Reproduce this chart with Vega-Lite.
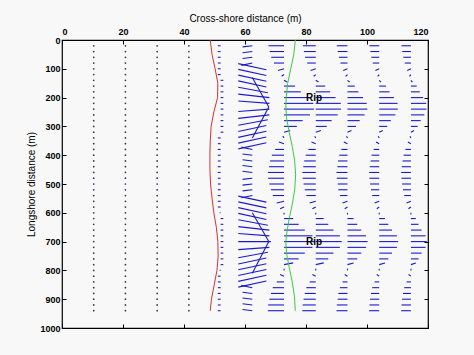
{
"$schema":"https://vega.github.io/schema/vega-lite/v6.json",
"autosize":"none",
"width":366,"height":288,
"padding":{"left":62,"top":40,"right":46,"bottom":27},
"background":"#f8f8f8",
"config":{"view":{"stroke":"#000","strokeWidth":1.2},
"axis":{"labelFont":"Liberation Sans","titleFont":"Liberation Sans","labelFontSize":9,"labelFontWeight":"bold","titleFontSize":10,"titleFontWeight":"normal","labelColor":"#000","titleColor":"#000","tickColor":"#000","domainColor":"#000","grid":false}},
"datasets":{
"dots":[
{"x":10.4,"y":20},{"x":10.4,"y":40},{"x":10.4,"y":60},{"x":10.4,"y":80},{"x":10.4,"y":100},{"x":10.4,"y":120},{"x":10.4,"y":140},{"x":10.4,"y":160},{"x":10.4,"y":180},{"x":10.4,"y":200},{"x":10.4,"y":220},{"x":10.4,"y":240},{"x":10.4,"y":260},{"x":10.4,"y":280},{"x":10.4,"y":300},{"x":10.4,"y":320},{"x":10.4,"y":340},{"x":10.4,"y":360},{"x":10.4,"y":380},{"x":10.4,"y":400},{"x":10.4,"y":420},{"x":10.4,"y":440},{"x":10.4,"y":460},{"x":10.4,"y":480},{"x":10.4,"y":500},{"x":10.4,"y":520},{"x":10.4,"y":540},{"x":10.4,"y":560},{"x":10.4,"y":580},{"x":10.4,"y":600},{"x":10.4,"y":620},{"x":10.4,"y":640},{"x":10.4,"y":660},{"x":10.4,"y":680},{"x":10.4,"y":700},{"x":10.4,"y":720},{"x":10.4,"y":740},{"x":10.4,"y":760},{"x":10.4,"y":780},{"x":10.4,"y":800},{"x":10.4,"y":820},{"x":10.4,"y":840},{"x":10.4,"y":860},{"x":10.4,"y":880},{"x":10.4,"y":900},{"x":10.4,"y":920},{"x":10.4,"y":940},
{"x":20.8,"y":20},{"x":20.8,"y":40},{"x":20.8,"y":60},{"x":20.8,"y":80},{"x":20.8,"y":100},{"x":20.8,"y":120},{"x":20.8,"y":140},{"x":20.8,"y":160},{"x":20.8,"y":180},{"x":20.8,"y":200},{"x":20.8,"y":220},{"x":20.8,"y":240},{"x":20.8,"y":260},{"x":20.8,"y":280},{"x":20.8,"y":300},{"x":20.8,"y":320},{"x":20.8,"y":340},{"x":20.8,"y":360},{"x":20.8,"y":380},{"x":20.8,"y":400},{"x":20.8,"y":420},{"x":20.8,"y":440},{"x":20.8,"y":460},{"x":20.8,"y":480},{"x":20.8,"y":500},{"x":20.8,"y":520},{"x":20.8,"y":540},{"x":20.8,"y":560},{"x":20.8,"y":580},{"x":20.8,"y":600},{"x":20.8,"y":620},{"x":20.8,"y":640},{"x":20.8,"y":660},{"x":20.8,"y":680},{"x":20.8,"y":700},{"x":20.8,"y":720},{"x":20.8,"y":740},{"x":20.8,"y":760},{"x":20.8,"y":780},{"x":20.8,"y":800},{"x":20.8,"y":820},{"x":20.8,"y":840},{"x":20.8,"y":860},{"x":20.8,"y":880},{"x":20.8,"y":900},{"x":20.8,"y":920},{"x":20.8,"y":940},
{"x":31.2,"y":20},{"x":31.2,"y":40},{"x":31.2,"y":60},{"x":31.2,"y":80},{"x":31.2,"y":100},{"x":31.2,"y":120},{"x":31.2,"y":140},{"x":31.2,"y":160},{"x":31.2,"y":180},{"x":31.2,"y":200},{"x":31.2,"y":220},{"x":31.2,"y":240},{"x":31.2,"y":260},{"x":31.2,"y":280},{"x":31.2,"y":300},{"x":31.2,"y":320},{"x":31.2,"y":340},{"x":31.2,"y":360},{"x":31.2,"y":380},{"x":31.2,"y":400},{"x":31.2,"y":420},{"x":31.2,"y":440},{"x":31.2,"y":460},{"x":31.2,"y":480},{"x":31.2,"y":500},{"x":31.2,"y":520},{"x":31.2,"y":540},{"x":31.2,"y":560},{"x":31.2,"y":580},{"x":31.2,"y":600},{"x":31.2,"y":620},{"x":31.2,"y":640},{"x":31.2,"y":660},{"x":31.2,"y":680},{"x":31.2,"y":700},{"x":31.2,"y":720},{"x":31.2,"y":740},{"x":31.2,"y":760},{"x":31.2,"y":780},{"x":31.2,"y":800},{"x":31.2,"y":820},{"x":31.2,"y":840},{"x":31.2,"y":860},{"x":31.2,"y":880},{"x":31.2,"y":900},{"x":31.2,"y":920},{"x":31.2,"y":940},
{"x":41.6,"y":20},{"x":41.6,"y":40},{"x":41.6,"y":60},{"x":41.6,"y":80},{"x":41.6,"y":100},{"x":41.6,"y":120},{"x":41.6,"y":140},{"x":41.6,"y":160},{"x":41.6,"y":180},{"x":41.6,"y":200},{"x":41.6,"y":220},{"x":41.6,"y":240},{"x":41.6,"y":260},{"x":41.6,"y":280},{"x":41.6,"y":300},{"x":41.6,"y":320},{"x":41.6,"y":340},{"x":41.6,"y":360},{"x":41.6,"y":380},{"x":41.6,"y":400},{"x":41.6,"y":420},{"x":41.6,"y":440},{"x":41.6,"y":460},{"x":41.6,"y":480},{"x":41.6,"y":500},{"x":41.6,"y":520},{"x":41.6,"y":540},{"x":41.6,"y":560},{"x":41.6,"y":580},{"x":41.6,"y":600},{"x":41.6,"y":620},{"x":41.6,"y":640},{"x":41.6,"y":660},{"x":41.6,"y":680},{"x":41.6,"y":700},{"x":41.6,"y":720},{"x":41.6,"y":740},{"x":41.6,"y":760},{"x":41.6,"y":780},{"x":41.6,"y":800},{"x":41.6,"y":820},{"x":41.6,"y":840},{"x":41.6,"y":860},{"x":41.6,"y":880},{"x":41.6,"y":900},{"x":41.6,"y":920},{"x":41.6,"y":940}
],
"arrows":[
{"x":52,"y":20,"xe":51.1,"ye":20},{"x":52,"y":40,"xe":51.1,"ye":40},{"x":52,"y":60,"xe":51.1,"ye":60},{"x":52,"y":80,"xe":51.1,"ye":80},{"x":52,"y":100,"xe":51.1,"ye":100},{"x":52,"y":120,"xe":51.1,"ye":120},{"x":52,"y":140,"xe":52.9,"ye":140},{"x":52,"y":160,"xe":52.9,"ye":160},{"x":52,"y":180,"xe":52.9,"ye":180},{"x":52,"y":200,"xe":52.9,"ye":200},{"x":52,"y":220,"xe":52.9,"ye":220},{"x":52,"y":240,"xe":52.9,"ye":240},{"x":52,"y":260,"xe":52.9,"ye":260},{"x":52,"y":280,"xe":52.9,"ye":280},{"x":52,"y":300,"xe":52.9,"ye":300},{"x":52,"y":320,"xe":52.9,"ye":320},{"x":52,"y":340,"xe":51.1,"ye":340},{"x":52,"y":360,"xe":51.1,"ye":360},{"x":52,"y":380,"xe":51.1,"ye":380},{"x":52,"y":400,"xe":51.1,"ye":400},{"x":52,"y":420,"xe":51.1,"ye":420},{"x":52,"y":440,"xe":51.1,"ye":440},{"x":52,"y":460,"xe":51.1,"ye":460},{"x":52,"y":480,"xe":51.1,"ye":480},{"x":52,"y":500,"xe":51.1,"ye":500},{"x":52,"y":520,"xe":51.1,"ye":520},{"x":52,"y":540,"xe":51.1,"ye":540},{"x":52,"y":560,"xe":51.1,"ye":560},{"x":52,"y":580,"xe":51.1,"ye":580},{"x":52,"y":600,"xe":51.7,"ye":600},{"x":52,"y":620,"xe":52.9,"ye":620},{"x":52,"y":640,"xe":52.9,"ye":640},{"x":52,"y":660,"xe":52.9,"ye":660},{"x":52,"y":680,"xe":52.9,"ye":680},{"x":52,"y":700,"xe":52.9,"ye":700},{"x":52,"y":720,"xe":52.9,"ye":720},{"x":52,"y":740,"xe":52.9,"ye":740},{"x":52,"y":760,"xe":52.9,"ye":760},{"x":52,"y":780,"xe":52.9,"ye":780},{"x":52,"y":800,"xe":51.7,"ye":800},{"x":52,"y":820,"xe":51.1,"ye":820},{"x":52,"y":840,"xe":51.1,"ye":840},{"x":52,"y":860,"xe":51.1,"ye":860},{"x":52,"y":880,"xe":51.1,"ye":880},{"x":52,"y":900,"xe":51.1,"ye":900},{"x":52,"y":920,"xe":51.1,"ye":920},{"x":52,"y":940,"xe":51.1,"ye":940},
{"x":62.4,"y":20,"xe":59.2,"ye":24},{"x":62.4,"y":40,"xe":59.2,"ye":44},{"x":62.4,"y":60,"xe":59.2,"ye":64},{"x":62.4,"y":80,"xe":58.8,"ye":88},{"x":57.8,"y":82,"xe":67,"ye":103},{"x":57.8,"y":102,"xe":67,"ye":123},{"x":57.8,"y":122,"xe":67,"ye":143},{"x":57.8,"y":142,"xe":67,"ye":163},{"x":57.8,"y":164,"xe":67.5,"ye":183},{"x":57.8,"y":188,"xe":68,"ye":200},{"x":57.8,"y":212,"xe":68,"ye":220},{"x":57.8,"y":248,"xe":68,"ye":240},{"x":57.8,"y":272,"xe":68,"ye":260},{"x":57.8,"y":296,"xe":67.5,"ye":277},{"x":57.8,"y":318,"xe":67,"ye":297},{"x":57.8,"y":338,"xe":67,"ye":317},{"x":57.8,"y":358,"xe":67,"ye":337},{"x":57.8,"y":378,"xe":67,"ye":357},{"x":62.4,"y":380,"xe":58.8,"ye":372},{"x":62.4,"y":400,"xe":59.2,"ye":396},{"x":62.4,"y":420,"xe":59.2,"ye":416},{"x":62.4,"y":440,"xe":59.2,"ye":436},{"x":62.4,"y":460,"xe":59.2,"ye":456},{"x":62.4,"y":480,"xe":59.2,"ye":484},{"x":62.4,"y":500,"xe":59.2,"ye":504},{"x":62.4,"y":520,"xe":59.2,"ye":524},{"x":62.4,"y":540,"xe":58.8,"ye":548},{"x":57.8,"y":542,"xe":67,"ye":563},{"x":57.8,"y":562,"xe":67,"ye":583},{"x":57.8,"y":582,"xe":67,"ye":603},{"x":57.8,"y":602,"xe":67,"ye":623},{"x":57.8,"y":624,"xe":67.5,"ye":643},{"x":57.8,"y":648,"xe":68,"ye":660},{"x":57.8,"y":672,"xe":68,"ye":680},{"x":57.8,"y":700,"xe":68.5,"ye":700},{"x":57.8,"y":728,"xe":68,"ye":720},{"x":57.8,"y":756,"xe":67.5,"ye":737},{"x":57.8,"y":778,"xe":67,"ye":757},{"x":57.8,"y":798,"xe":67,"ye":777},{"x":57.8,"y":818,"xe":67,"ye":797},{"x":57.8,"y":838,"xe":67,"ye":817},{"x":57.8,"y":858,"xe":67,"ye":837},{"x":62.4,"y":860,"xe":58.8,"ye":852},{"x":62.4,"y":880,"xe":59.2,"ye":876},{"x":62.4,"y":900,"xe":59.2,"ye":896},{"x":62.4,"y":920,"xe":59.2,"ye":916},{"x":62.4,"y":940,"xe":59.2,"ye":936},
{"x":62.4,"y":130,"xe":67.8,"ye":233},{"x":67.8,"y":233,"xe":62.4,"ye":340},{"x":62.4,"y":600,"xe":67.8,"ye":700},{"x":67.8,"y":700,"xe":62.4,"ye":810},
{"x":72.8,"y":20,"xe":67.7,"ye":20},{"x":72.8,"y":40,"xe":68.1,"ye":40},{"x":72.8,"y":60,"xe":68.6,"ye":60},{"x":72.8,"y":80,"xe":69.5,"ye":80},{"x":72.8,"y":100,"xe":70.8,"ye":106},{"x":72.8,"y":120,"xe":72.0,"ye":126},{"x":72.8,"y":140,"xe":73.8,"ye":146},{"x":72.8,"y":160,"xe":76.4,"ye":160},{"x":72.8,"y":180,"xe":78.3,"ye":180},{"x":72.8,"y":200,"xe":80.5,"ye":200},{"x":72.8,"y":220,"xe":82.4,"ye":220},{"x":72.8,"y":240,"xe":82.6,"ye":240},{"x":72.8,"y":260,"xe":81.3,"ye":260},{"x":72.8,"y":280,"xe":78.9,"ye":280},{"x":72.8,"y":300,"xe":77.0,"ye":300},{"x":72.8,"y":320,"xe":74.8,"ye":314},{"x":72.8,"y":340,"xe":72.4,"ye":334},{"x":72.8,"y":360,"xe":71.1,"ye":354},{"x":72.8,"y":380,"xe":69.9,"ye":380},{"x":72.8,"y":400,"xe":68.8,"ye":400},{"x":72.8,"y":420,"xe":68.2,"ye":420},{"x":72.8,"y":440,"xe":67.9,"ye":440},{"x":72.8,"y":460,"xe":67.5,"ye":460},{"x":72.8,"y":480,"xe":67.6,"ye":480},{"x":72.8,"y":500,"xe":68.0,"ye":500},{"x":72.8,"y":520,"xe":68.5,"ye":520},{"x":72.8,"y":540,"xe":69.1,"ye":540},{"x":72.8,"y":560,"xe":70.4,"ye":566},{"x":72.8,"y":580,"xe":71.5,"ye":586},{"x":72.8,"y":600,"xe":72.8,"ye":606},{"x":72.8,"y":620,"xe":75.8,"ye":620},{"x":72.8,"y":640,"xe":77.6,"ye":640},{"x":72.8,"y":660,"xe":79.6,"ye":660},{"x":72.8,"y":680,"xe":82.1,"ye":680},{"x":72.8,"y":700,"xe":82.8,"ye":700},{"x":72.8,"y":720,"xe":82.1,"ye":720},{"x":72.8,"y":740,"xe":79.6,"ye":740},{"x":72.8,"y":760,"xe":77.6,"ye":760},{"x":72.8,"y":780,"xe":75.8,"ye":774},{"x":72.8,"y":800,"xe":72.8,"ye":794},{"x":72.8,"y":820,"xe":71.5,"ye":814},{"x":72.8,"y":840,"xe":70.4,"ye":840},{"x":72.8,"y":860,"xe":69.1,"ye":860},{"x":72.8,"y":880,"xe":68.5,"ye":880},{"x":72.8,"y":900,"xe":68.0,"ye":900},{"x":72.8,"y":920,"xe":67.6,"ye":920},{"x":72.8,"y":940,"xe":67.5,"ye":940},
{"x":83.2,"y":20,"xe":79.0,"ye":20},{"x":83.2,"y":40,"xe":79.3,"ye":40},{"x":83.2,"y":60,"xe":79.7,"ye":60},{"x":83.2,"y":80,"xe":80.4,"ye":80},{"x":83.2,"y":100,"xe":81.5,"ye":106},{"x":83.2,"y":120,"xe":82.5,"ye":126},{"x":83.2,"y":140,"xe":84.1,"ye":146},{"x":83.2,"y":160,"xe":86.3,"ye":160},{"x":83.2,"y":180,"xe":87.9,"ye":180},{"x":83.2,"y":200,"xe":89.7,"ye":200},{"x":83.2,"y":220,"xe":91.4,"ye":220},{"x":83.2,"y":240,"xe":91.5,"ye":240},{"x":83.2,"y":260,"xe":90.4,"ye":260},{"x":83.2,"y":280,"xe":88.4,"ye":280},{"x":83.2,"y":300,"xe":86.8,"ye":300},{"x":83.2,"y":320,"xe":84.9,"ye":314},{"x":83.2,"y":340,"xe":82.85,"ye":334},{"x":83.2,"y":360,"xe":81.8,"ye":354},{"x":83.2,"y":380,"xe":80.8,"ye":380},{"x":83.2,"y":400,"xe":79.9,"ye":400},{"x":83.2,"y":420,"xe":79.4,"ye":420},{"x":83.2,"y":440,"xe":79.1,"ye":440},{"x":83.2,"y":460,"xe":78.8,"ye":460},{"x":83.2,"y":480,"xe":78.9,"ye":480},{"x":83.2,"y":500,"xe":79.2,"ye":500},{"x":83.2,"y":520,"xe":79.6,"ye":520},{"x":83.2,"y":540,"xe":80.1,"ye":540},{"x":83.2,"y":560,"xe":81.2,"ye":566},{"x":83.2,"y":580,"xe":82.1,"ye":586},{"x":83.2,"y":600,"xe":83.2,"ye":606},{"x":83.2,"y":620,"xe":85.8,"ye":620},{"x":83.2,"y":640,"xe":87.3,"ye":640},{"x":83.2,"y":660,"xe":89.0,"ye":660},{"x":83.2,"y":680,"xe":91.1,"ye":680},{"x":83.2,"y":700,"xe":91.7,"ye":700},{"x":83.2,"y":720,"xe":91.1,"ye":720},{"x":83.2,"y":740,"xe":89.0,"ye":740},{"x":83.2,"y":760,"xe":87.3,"ye":760},{"x":83.2,"y":780,"xe":85.8,"ye":774},{"x":83.2,"y":800,"xe":83.2,"ye":794},{"x":83.2,"y":820,"xe":82.1,"ye":814},{"x":83.2,"y":840,"xe":81.2,"ye":840},{"x":83.2,"y":860,"xe":80.1,"ye":860},{"x":83.2,"y":880,"xe":79.6,"ye":880},{"x":83.2,"y":900,"xe":79.2,"ye":900},{"x":83.2,"y":920,"xe":78.9,"ye":920},{"x":83.2,"y":940,"xe":78.8,"ye":940},
{"x":93.6,"y":20,"xe":90.1,"ye":20},{"x":93.6,"y":40,"xe":90.4,"ye":40},{"x":93.6,"y":60,"xe":90.8,"ye":60},{"x":93.6,"y":80,"xe":91.3,"ye":80},{"x":93.6,"y":100,"xe":92.2,"ye":106},{"x":93.6,"y":120,"xe":93.0,"ye":126},{"x":93.6,"y":140,"xe":94.3,"ye":146},{"x":93.6,"y":160,"xe":96.0,"ye":160},{"x":93.6,"y":180,"xe":97.2,"ye":180},{"x":93.6,"y":200,"xe":98.7,"ye":200},{"x":93.6,"y":220,"xe":99.9,"ye":220},{"x":93.6,"y":240,"xe":100.1,"ye":240},{"x":93.6,"y":260,"xe":99.2,"ye":260},{"x":93.6,"y":280,"xe":97.6,"ye":280},{"x":93.6,"y":300,"xe":96.4,"ye":300},{"x":93.6,"y":320,"xe":94.9,"ye":314},{"x":93.6,"y":340,"xe":93.3,"ye":334},{"x":93.6,"y":360,"xe":92.4,"ye":354},{"x":93.6,"y":380,"xe":91.6,"ye":380},{"x":93.6,"y":400,"xe":90.9,"ye":400},{"x":93.6,"y":420,"xe":90.5,"ye":420},{"x":93.6,"y":440,"xe":90.3,"ye":440},{"x":93.6,"y":460,"xe":90.0,"ye":460},{"x":93.6,"y":480,"xe":90.1,"ye":480},{"x":93.6,"y":500,"xe":90.4,"ye":500},{"x":93.6,"y":520,"xe":90.6,"ye":520},{"x":93.6,"y":540,"xe":91.1,"ye":540},{"x":93.6,"y":560,"xe":92.0,"ye":566},{"x":93.6,"y":580,"xe":92.7,"ye":586},{"x":93.6,"y":600,"xe":93.6,"ye":606},{"x":93.6,"y":620,"xe":95.6,"ye":620},{"x":93.6,"y":640,"xe":96.8,"ye":640},{"x":93.6,"y":660,"xe":98.1,"ye":660},{"x":93.6,"y":680,"xe":99.7,"ye":680},{"x":93.6,"y":700,"xe":100.2,"ye":700},{"x":93.6,"y":720,"xe":99.7,"ye":720},{"x":93.6,"y":740,"xe":98.1,"ye":740},{"x":93.6,"y":760,"xe":96.8,"ye":760},{"x":93.6,"y":780,"xe":95.6,"ye":774},{"x":93.6,"y":800,"xe":93.6,"ye":794},{"x":93.6,"y":820,"xe":92.7,"ye":814},{"x":93.6,"y":840,"xe":92.0,"ye":840},{"x":93.6,"y":860,"xe":91.1,"ye":860},{"x":93.6,"y":880,"xe":90.6,"ye":880},{"x":93.6,"y":900,"xe":90.4,"ye":900},{"x":93.6,"y":920,"xe":90.1,"ye":920},{"x":93.6,"y":940,"xe":90.0,"ye":940},
{"x":104,"y":20,"xe":100.8,"ye":20},{"x":104,"y":40,"xe":101.1,"ye":40},{"x":104,"y":60,"xe":101.4,"ye":60},{"x":104,"y":80,"xe":101.9,"ye":80},{"x":104,"y":100,"xe":102.75,"ye":106},{"x":104,"y":120,"xe":103.5,"ye":126},{"x":104,"y":140,"xe":104.6,"ye":146},{"x":104,"y":160,"xe":106.2,"ye":160},{"x":104,"y":180,"xe":107.4,"ye":180},{"x":104,"y":200,"xe":108.8,"ye":200},{"x":104,"y":220,"xe":110.0,"ye":220},{"x":104,"y":240,"xe":110.1,"ye":240},{"x":104,"y":260,"xe":109.3,"ye":260},{"x":104,"y":280,"xe":107.8,"ye":280},{"x":104,"y":300,"xe":106.6,"ye":300},{"x":104,"y":320,"xe":105.2,"ye":314},{"x":104,"y":340,"xe":103.7,"ye":334},{"x":104,"y":360,"xe":102.95,"ye":354},{"x":104,"y":380,"xe":102.2,"ye":380},{"x":104,"y":400,"xe":101.5,"ye":400},{"x":104,"y":420,"xe":101.2,"ye":420},{"x":104,"y":440,"xe":100.9,"ye":440},{"x":104,"y":460,"xe":100.7,"ye":460},{"x":104,"y":480,"xe":100.8,"ye":480},{"x":104,"y":500,"xe":101.0,"ye":500},{"x":104,"y":520,"xe":101.3,"ye":520},{"x":104,"y":540,"xe":101.7,"ye":540},{"x":104,"y":560,"xe":102.5,"ye":566},{"x":104,"y":580,"xe":103.2,"ye":586},{"x":104,"y":600,"xe":104,"ye":606},{"x":104,"y":620,"xe":105.9,"ye":620},{"x":104,"y":640,"xe":107.0,"ye":640},{"x":104,"y":660,"xe":108.2,"ye":660},{"x":104,"y":680,"xe":109.8,"ye":680},{"x":104,"y":700,"xe":110.2,"ye":700},{"x":104,"y":720,"xe":109.8,"ye":720},{"x":104,"y":740,"xe":108.2,"ye":740},{"x":104,"y":760,"xe":107.0,"ye":760},{"x":104,"y":780,"xe":105.9,"ye":774},{"x":104,"y":800,"xe":104,"ye":794},{"x":104,"y":820,"xe":103.2,"ye":814},{"x":104,"y":840,"xe":102.5,"ye":840},{"x":104,"y":860,"xe":101.7,"ye":860},{"x":104,"y":880,"xe":101.3,"ye":880},{"x":104,"y":900,"xe":101.0,"ye":900},{"x":104,"y":920,"xe":100.8,"ye":920},{"x":104,"y":940,"xe":100.7,"ye":940},
{"x":114.4,"y":20,"xe":111.3,"ye":20},{"x":114.4,"y":40,"xe":111.55,"ye":40},{"x":114.4,"y":60,"xe":111.9,"ye":60},{"x":114.4,"y":80,"xe":112.4,"ye":80},{"x":114.4,"y":100,"xe":113.2,"ye":106},{"x":114.4,"y":120,"xe":113.9,"ye":126},{"x":114.4,"y":140,"xe":114.9,"ye":146},{"x":114.4,"y":160,"xe":116.3,"ye":160},{"x":114.4,"y":180,"xe":117.3,"ye":180},{"x":114.4,"y":200,"xe":118.4,"ye":200},{"x":114.4,"y":220,"xe":119.4,"ye":220},{"x":114.4,"y":240,"xe":119.5,"ye":240},{"x":114.4,"y":260,"xe":118.8,"ye":260},{"x":114.4,"y":280,"xe":117.6,"ye":280},{"x":114.4,"y":300,"xe":116.6,"ye":300},{"x":114.4,"y":320,"xe":115.4,"ye":314},{"x":114.4,"y":340,"xe":114.1,"ye":334},{"x":114.4,"y":360,"xe":113.4,"ye":354},{"x":114.4,"y":380,"xe":112.6,"ye":380},{"x":114.4,"y":400,"xe":112.0,"ye":400},{"x":114.4,"y":420,"xe":111.65,"ye":420},{"x":114.4,"y":440,"xe":111.4,"ye":440},{"x":114.4,"y":460,"xe":111.2,"ye":460},{"x":114.4,"y":480,"xe":111.3,"ye":480},{"x":114.4,"y":500,"xe":111.5,"ye":500},{"x":114.4,"y":520,"xe":111.8,"ye":520},{"x":114.4,"y":540,"xe":112.2,"ye":540},{"x":114.4,"y":560,"xe":113.0,"ye":566},{"x":114.4,"y":580,"xe":113.6,"ye":586},{"x":114.4,"y":600,"xe":114.4,"ye":606},{"x":114.4,"y":620,"xe":116.0,"ye":620},{"x":114.4,"y":640,"xe":116.9,"ye":640},{"x":114.4,"y":660,"xe":117.9,"ye":660},{"x":114.4,"y":680,"xe":119.2,"ye":680},{"x":114.4,"y":700,"xe":119.6,"ye":700},{"x":114.4,"y":720,"xe":119.2,"ye":720},{"x":114.4,"y":740,"xe":117.9,"ye":740},{"x":114.4,"y":760,"xe":116.9,"ye":760},{"x":114.4,"y":780,"xe":116.0,"ye":774},{"x":114.4,"y":800,"xe":114.4,"ye":794},{"x":114.4,"y":820,"xe":113.6,"ye":814},{"x":114.4,"y":840,"xe":113.0,"ye":840},{"x":114.4,"y":860,"xe":112.2,"ye":860},{"x":114.4,"y":880,"xe":111.8,"ye":880},{"x":114.4,"y":900,"xe":111.5,"ye":900},{"x":114.4,"y":920,"xe":111.3,"ye":920},{"x":114.4,"y":940,"xe":111.2,"ye":940}
],
"red":[
{"x":48.6,"y":0},{"x":49.2,"y":50},{"x":50.2,"y":100},{"x":51.1,"y":150},{"x":51.0,"y":200},{"x":49.8,"y":250},{"x":48.9,"y":300},{"x":48.6,"y":350},{"x":48.5,"y":400},{"x":48.5,"y":450},{"x":48.7,"y":500},{"x":49.2,"y":550},{"x":49.8,"y":600},{"x":50.6,"y":650},{"x":51.1,"y":700},{"x":51.2,"y":750},{"x":50.8,"y":800},{"x":49.9,"y":850},{"x":49.0,"y":900},{"x":48.6,"y":940}
],
"green":[
{"x":76.5,"y":0},{"x":76.0,"y":50},{"x":75.0,"y":100},{"x":74.0,"y":150},{"x":73.5,"y":200},{"x":73.4,"y":233},{"x":73.6,"y":270},{"x":74.5,"y":320},{"x":75.5,"y":370},{"x":76.3,"y":420},{"x":76.6,"y":467},{"x":76.3,"y":520},{"x":75.5,"y":570},{"x":74.5,"y":620},{"x":73.7,"y":670},{"x":73.4,"y":700},{"x":73.6,"y":740},{"x":74.5,"y":790},{"x":75.5,"y":840},{"x":76.2,"y":890},{"x":76.5,"y":940}
],
"labels":[{"x":80,"y":201,"label":"Rip"},{"x":80,"y":700,"label":"Rip"}]
},
"resolve":{"axis":{"x":"independent","y":"independent"}},
"layer":[
{"data":{"name":"arrows"},"mark":{"type":"rule","color":"#1a1acc","strokeWidth":1.1},
"encoding":{
"x":{"field":"x","type":"quantitative","scale":{"domain":[0,120],"nice":false},"axis":{"orient":"top","values":[0,20,40,60,80,100,120],"title":"Cross-shore distance (m)","tickSize":-4,"labelPadding":8,"titlePadding":4,"domain":false}},
"y":{"field":"y","type":"quantitative","scale":{"domain":[0,1000],"reverse":true,"nice":false},"axis":{"orient":"left","values":[0,100,200,300,400,500,600,700,800,900,1000],"format":"d","title":"Longshore distance (m)","tickSize":-4,"labelPadding":6,"titlePadding":3,"domain":false}},
"x2":{"field":"xe"},"y2":{"field":"ye"}}},
{"data":{"name":"dots"},"mark":{"type":"point","filled":true,"size":3,"color":"#333355","opacity":1},
"encoding":{
"x":{"field":"x","type":"quantitative","scale":{"domain":[0,120],"nice":false},"axis":{"orient":"bottom","values":[0,20,40,60,80,100,120],"labels":false,"title":null,"tickSize":-4,"domain":false}},
"y":{"field":"y","type":"quantitative","scale":{"domain":[0,1000],"reverse":true,"nice":false},"axis":{"orient":"right","values":[0,100,200,300,400,500,600,700,800,900,1000],"labels":false,"title":null,"tickSize":-4,"domain":false}}}},
{"data":{"name":"red"},"mark":{"type":"line","color":"#d83030","strokeWidth":1},
"encoding":{
"x":{"field":"x","type":"quantitative","scale":{"domain":[0,120],"nice":false},"axis":null},
"y":{"field":"y","type":"quantitative","scale":{"domain":[0,1000],"reverse":true,"nice":false},"axis":null},
"order":{"field":"y","type":"quantitative"}}},
{"data":{"name":"green"},"mark":{"type":"line","color":"#3ccc3c","strokeWidth":1},
"encoding":{
"x":{"field":"x","type":"quantitative","scale":{"domain":[0,120],"nice":false},"axis":null},
"y":{"field":"y","type":"quantitative","scale":{"domain":[0,1000],"reverse":true,"nice":false},"axis":null},
"order":{"field":"y","type":"quantitative"}}},
{"data":{"name":"labels"},"mark":{"type":"text","align":"left","baseline":"middle","font":"Liberation Sans","fontSize":10,"fontWeight":"bold","color":"#000"},
"encoding":{
"x":{"field":"x","type":"quantitative","scale":{"domain":[0,120],"nice":false},"axis":null},
"y":{"field":"y","type":"quantitative","scale":{"domain":[0,1000],"reverse":true,"nice":false},"axis":null},
"text":{"field":"label","type":"nominal"}}}
]
}
